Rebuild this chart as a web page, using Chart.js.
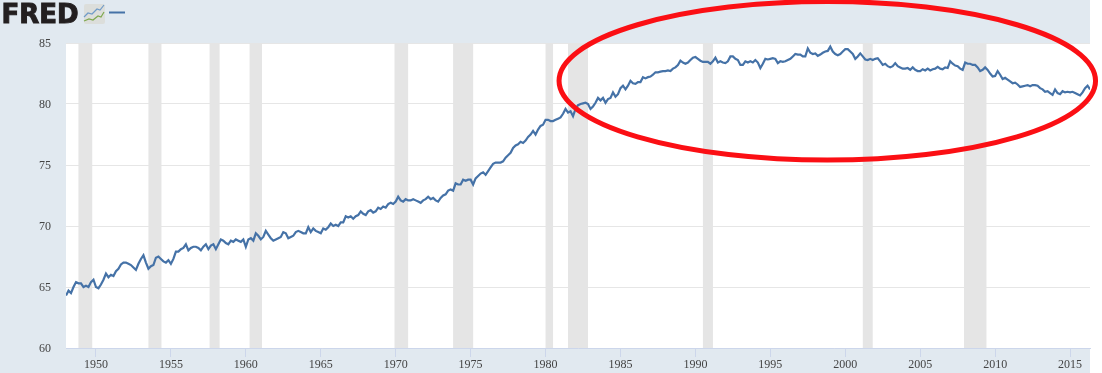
<!DOCTYPE html>
<html>
<head>
<meta charset="utf-8">
<title>FRED</title>
<script src="https://cdn.jsdelivr.net/npm/chart.js@4"></script>
<style>
  html, body { margin: 0; padding: 0; background: #fff; }
  canvas { display: block; }
</style>
</head>
<body>
<canvas id="fred" width="1102" height="373"></canvas>
<script>
// readings, six per year, one row per year, starting 1948
// the small wiggle between the visible peaks and dips is estimated by eye
const startYear = 1948;
const seriesValues = [
  64.3, 64.7, 64.5, 65.0, 65.4, 65.3,
  65.3, 65.0, 65.1, 65.0, 65.4, 65.6,
  65.0, 64.9, 65.2, 65.6, 66.1, 65.8,
  66.0, 65.9, 66.3, 66.5, 66.85, 67.0,
  67.0, 66.9, 66.8, 66.6, 66.4, 66.9,
  67.3, 67.6, 67.0, 66.5, 66.7, 66.8,
  67.4, 67.5, 67.3, 67.1, 67.0, 67.2,
  66.9, 67.3, 67.9, 67.9, 68.1, 68.2,
  68.5, 68.0, 68.2, 68.3, 68.3, 68.2,
  68.0, 68.3, 68.5, 68.1, 68.4, 68.5,
  68.1, 68.5, 68.9, 68.8, 68.6, 68.5,
  68.8, 68.7, 68.9, 68.8, 68.7, 68.9,
  68.3, 68.9, 69.0, 68.8, 69.4, 69.2,
  68.9, 69.1, 69.6, 69.3, 69.0, 68.8,
  68.9, 69.0, 69.1, 69.5, 69.4, 69.0,
  69.1, 69.2, 69.5, 69.6, 69.5, 69.4,
  69.4, 69.9, 69.5, 69.8, 69.6, 69.5,
  69.4, 69.8, 69.7, 69.9, 70.2, 70.0,
  70.1, 70.0, 70.3, 70.3, 70.8, 70.7,
  70.8, 70.6, 70.8, 70.9, 71.2, 71.0,
  70.9, 71.2, 71.3, 71.1, 71.2, 71.5,
  71.4, 71.6, 71.5, 71.8, 71.9, 71.8,
  72.0, 72.4, 72.1, 72.0, 72.2, 72.1,
  72.1, 72.2, 72.1, 72.0, 71.9, 72.1,
  72.2, 72.4, 72.2, 72.3, 72.1, 72.0,
  72.3, 72.5, 72.6, 72.9, 73.0, 72.9,
  73.5, 73.4, 73.4, 73.8, 73.7, 73.8,
  73.8, 73.4, 73.9, 74.1, 74.3, 74.4,
  74.2, 74.5, 74.8, 75.1, 75.2, 75.2,
  75.2, 75.3, 75.6, 75.8, 76.0, 76.4,
  76.6, 76.7, 76.9, 76.8, 77.0, 77.3,
  77.5, 77.8, 77.5, 77.9, 78.2, 78.3,
  78.7, 78.7, 78.6, 78.6, 78.7, 78.8,
  78.9, 79.2, 79.6, 79.3, 79.4, 79.0,
  79.6, 79.9, 80.0, 80.05, 80.1, 80.0,
  79.6, 79.8, 80.1, 80.5, 80.3, 80.5,
  80.1, 80.4, 80.5, 80.95, 80.6, 80.8,
  81.3, 81.5, 81.2, 81.5, 81.9, 81.7,
  81.65, 81.8, 81.8, 82.2, 82.1, 82.2,
  82.25, 82.4, 82.6, 82.6, 82.65, 82.7,
  82.7, 82.75, 82.7, 82.9, 83.0, 83.2,
  83.55, 83.4, 83.3, 83.4, 83.6, 83.8,
  83.85, 83.7, 83.55, 83.45, 83.45, 83.45,
  83.3, 83.5, 83.8, 83.4, 83.5, 83.4,
  83.35, 83.5, 83.9, 83.9, 83.7, 83.6,
  83.2, 83.2, 83.5, 83.4, 83.5, 83.4,
  83.6, 83.4, 82.95, 83.3, 83.7, 83.65,
  83.7, 83.75, 83.7, 83.35, 83.5, 83.45,
  83.5, 83.6, 83.7, 83.9, 84.1, 84.05,
  84.05, 83.9, 83.9, 84.55, 84.2, 84.1,
  84.15, 83.95, 84.05, 84.2, 84.3, 84.35,
  84.7, 84.3, 84.1, 84.0, 84.1, 84.3,
  84.5, 84.5, 84.3, 84.1, 83.7, 83.9,
  84.15, 83.9, 83.65, 83.6, 83.7, 83.6,
  83.7, 83.75, 83.5, 83.2, 83.3, 83.1,
  83.0, 83.1, 83.35, 83.1, 83.0, 82.9,
  82.9, 82.95, 82.8, 83.0, 82.8, 82.7,
  82.7, 82.85, 82.75, 82.9, 82.75, 82.85,
  82.9, 83.05, 82.9, 82.85, 83.0, 82.95,
  83.5, 83.3, 83.15, 83.1, 82.9, 82.8,
  83.4, 83.3, 83.3, 83.2, 83.2, 83.0,
  82.7, 82.8, 83.0, 82.8, 82.5, 82.25,
  82.3, 82.7, 82.4, 82.05, 82.15, 82.0,
  81.85, 81.7, 81.75, 81.6, 81.4, 81.45,
  81.5, 81.55, 81.45, 81.55, 81.55, 81.5,
  81.3, 81.2, 81.0, 81.05, 80.9, 80.75,
  81.2, 80.9, 80.8, 81.05, 80.95, 81.0,
  80.95, 81.0, 80.9, 80.8, 80.7, 80.95,
  81.3, 81.5, 81.2
];

// shaded recessions, [start, end] in decimal years
const recessions = [
  [1948.83, 1949.75], [1953.5, 1954.37], [1957.58, 1958.25], [1960.25, 1961.08],
  [1969.92, 1970.83], [1973.83, 1975.17], [1980.0, 1980.5], [1981.5, 1982.83],
  [1990.5, 1991.17], [2001.17, 2001.83], [2007.92, 2009.42]
];

// hand drawn circle on the picture, in axis units
const circle = { year: 1998.8, value: 81.9, years: 17.9, span: 6.5 };

const points = seriesValues.map((v, i) => ({ x: startYear + i / 6, y: v }));

const panelColor = '#e1e9f0';
const lineColor = '#4572a7';
const tickFont = { family: '"Liberation Serif", serif', size: 12 };

const fredDecor = {
  id: 'fredDecor',
  beforeDraw(chart) {
    const { ctx, chartArea: a } = chart;
    ctx.save();
    ctx.fillStyle = panelColor;
    ctx.fillRect(0, 0, a.right, chart.height);
    ctx.fillStyle = '#fff';
    ctx.fillRect(a.left, a.top, a.right - a.left, a.bottom - a.top);
    ctx.restore();
  },
  beforeDatasetsDraw(chart) {
    const { ctx, chartArea: a, scales } = chart;
    ctx.save();
    ctx.fillStyle = '#e5e5e5';
    recessions.forEach(([s, e]) => {
      const x0 = scales.x.getPixelForValue(s);
      const x1 = scales.x.getPixelForValue(e);
      ctx.fillRect(x0, a.top, x1 - x0, a.bottom - a.top);
    });
    ctx.restore();
  },
  afterDraw(chart) {
    const { ctx, scales } = chart;
    ctx.save();

    // logo
    ctx.fillStyle = '#231f20';
    ctx.strokeStyle = '#231f20';
    ctx.lineWidth = 1;
    ctx.font = 'bold 26px "DejaVu Sans"';
    ctx.textBaseline = 'alphabetic';
    ctx.fillText('FRED', 1.5, 23);
    ctx.strokeText('FRED', 1.5, 23);

    // little chart icon next to the logo
    ctx.fillStyle = '#dcdedb';
    ctx.beginPath();
    ctx.roundRect(84, 4, 21, 20, 2);
    ctx.fill();
    ctx.lineWidth = 1.2;
    ctx.strokeStyle = '#6f9bc8';
    ctx.beginPath();
    ctx.moveTo(84, 17); ctx.lineTo(88, 13); ctx.lineTo(92, 14); ctx.lineTo(97, 9); ctx.lineTo(100, 10); ctx.lineTo(104, 5);
    ctx.stroke();
    ctx.strokeStyle = '#7ea84f';
    ctx.beginPath();
    ctx.moveTo(84, 21); ctx.lineTo(89, 19); ctx.lineTo(93, 20); ctx.lineTo(98, 16); ctx.lineTo(101, 17); ctx.lineTo(104, 12);
    ctx.stroke();

    // legend swatch, the series has no name in the picture
    ctx.strokeStyle = lineColor;
    ctx.lineWidth = 2;
    ctx.beginPath();
    ctx.moveTo(109, 12.5);
    ctx.lineTo(125, 12.5);
    ctx.stroke();

    // red circle
    const cx = scales.x.getPixelForValue(circle.year);
    const cy = scales.y.getPixelForValue(circle.value);
    const rx = scales.x.getPixelForValue(circle.year + circle.years) - cx;
    const ry = cy - scales.y.getPixelForValue(circle.value + circle.span);
    ctx.strokeStyle = '#fb0f14';
    ctx.lineWidth = 5;
    ctx.beginPath();
    ctx.ellipse(cx, cy, rx, ry, 0, 0, Math.PI * 2);
    ctx.stroke();
    ctx.restore();
  }
};

new Chart(document.getElementById('fred'), {
  type: 'line',
  data: {
    datasets: [{
      label: '',
      data: points,
      borderColor: lineColor,
      borderWidth: 2.2,
      pointRadius: 0,
      tension: 0
    }]
  },
  options: {
    responsive: false,
    animation: false,
    layout: { padding: { top: 43, right: 12, left: 0, bottom: 0 } },
    plugins: { legend: { display: false }, tooltip: { enabled: false } },
    scales: {
      x: {
        type: 'linear',
        min: 1948,
        max: 2016.33,
        afterFit(scale) { scale.height = 25; },
        border: { color: '#ccd6eb', width: 1 },
        grid: { drawOnChartArea: false, color: '#ccd6eb', tickLength: 9 },
        ticks: {
          stepSize: 5,
          includeBounds: false,
          maxRotation: 0,
          padding: 1,
          font: tickFont,
          color: '#444',
          callback: v => String(v)
        }
      },
      y: {
        min: 60,
        max: 85,
        afterFit(scale) { scale.width = 66; },
        border: { display: false },
        grid: { color: '#e6e6e6', drawTicks: false },
        ticks: { stepSize: 5, padding: 15, labelOffset: 1, font: tickFont, color: '#444' }
      }
    }
  },
  plugins: [fredDecor]
});
</script>
</body>
</html>
